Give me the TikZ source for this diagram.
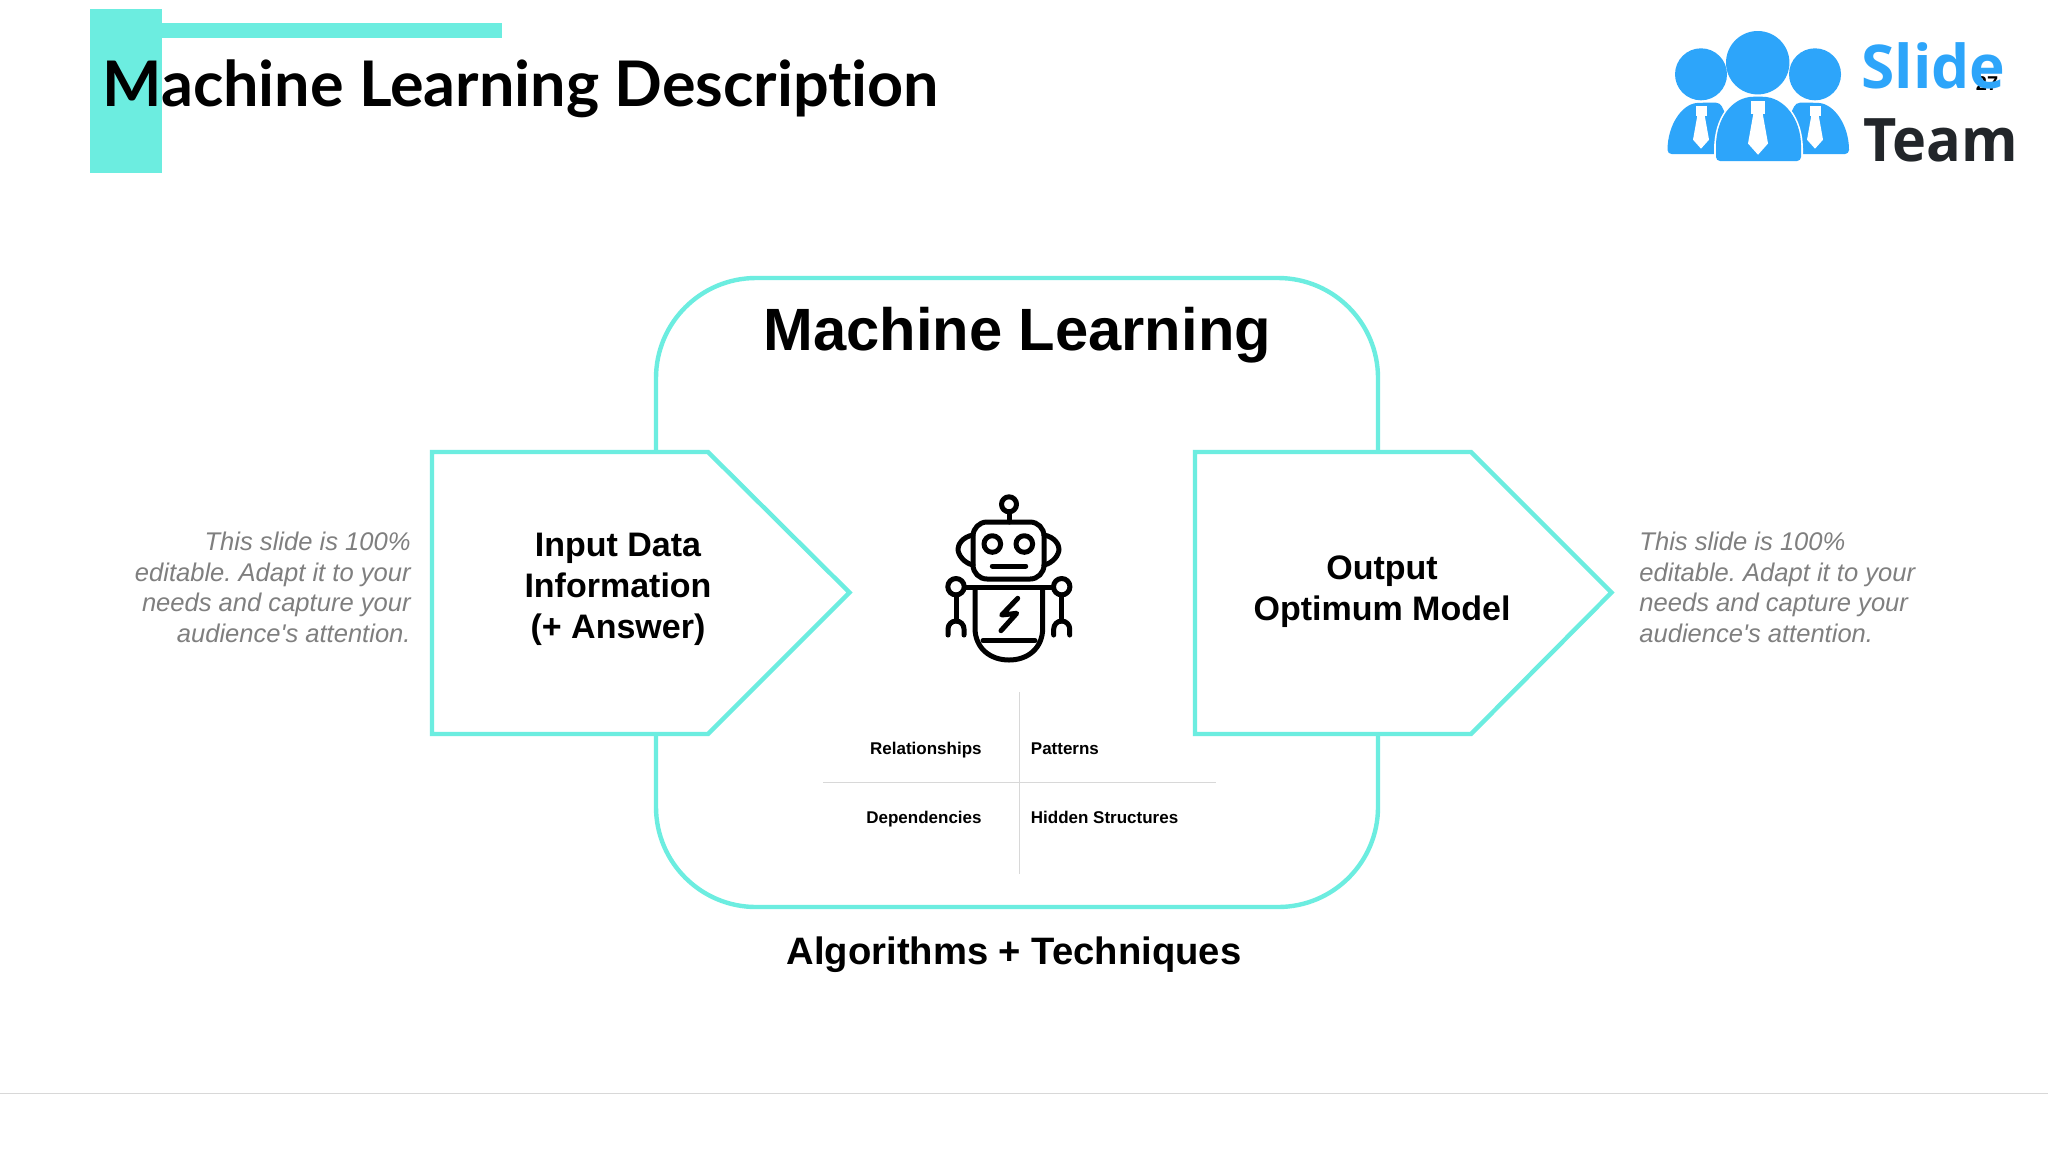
\documentclass[tikz,border=0pt]{standalone}
\usepackage{fontspec}
\setmainfont{Liberation Sans}
\newfontfamily\notefont{Liberation Sans}
\newfontfamily\titlefont[Ligatures=NoCommon]{Lato}
\newfontfamily\logofont{Open Sans}
\definecolor{teal1}{HTML}{6CEDE0}
\definecolor{logoblue}{HTML}{2DA5FA}
\definecolor{logodark}{HTML}{22262A}
\definecolor{sidegray}{HTML}{7F7F7F}
\definecolor{rulegray}{HTML}{D8D8D8}
\tikzset{
  tealline/.style={draw=teal1,line width=2.2pt,line join=miter},
  headlabel/.style={font=\bfseries\fontsize{17}{20.5}\selectfont,align=center,text=black,inner sep=0pt},
  sidenote/.style={font=\notefont\itshape\frenchspacing\fontsize{12.78}{15.35}\selectfont,text=sidegray,inner sep=0pt},
  cell/.style={font=\bfseries\fontsize{8.5}{10}\selectfont,text=black,inner sep=0pt},
  robotline/.style={draw=black,line width=2.5pt,line cap=round,line join=round},
  tiepart/.style={fill=white,draw=none},
}
\begin{document}
\begin{tikzpicture}[x=0.5pt,y=-0.5pt]
\useasboundingbox (0,0) rectangle (2048,1152);
\fill[white] (0,0) rectangle (2048,1152);
% header
\fill[teal1] (90,8.5) rectangle (162,173);
\fill[teal1] (162,22.7) rectangle (502,37.7);
\node[anchor=base west,inner sep=0pt,text=black] (title) at (102,106)
  {\titlefont\bfseries\fontsize{31.45}{34}\selectfont Machine Learning Description};
% slide number behind logo
\node[anchor=base,inner sep=0pt,font=\bfseries\fontsize{10}{12}\selectfont] (num) at (1987,90) {27};
% logo
\fill[logoblue,rounded corners=2pt] (1667.5,154) .. controls (1667.5,125) and (1682,104) .. (1701,102.7) -- (1720,102.7) -- (1745,154) -- cycle;
\fill[logoblue,rounded corners=2pt] (1849,154) .. controls (1849,125) and (1834,104) .. (1815,102.7) -- (1796,102.7) -- (1771,154) -- cycle;
\fill[white] (1714,166) -- (1714,150) .. controls (1714,118) and (1730,94) .. (1758,94) .. controls (1786,94) and (1803,118) .. (1803,150) -- (1803,166) -- cycle;
\fill[logoblue,rounded corners=2pt] (1716,161) -- (1716,150) .. controls (1716,120) and (1731,96.7) .. (1758,96.7) .. controls (1785,96.7) and (1801,120) .. (1801,150) -- (1801,161) -- cycle;
\fill[logoblue] (1701,74.3) circle (26);
\fill[logoblue] (1815,74.3) circle (26);
\fill[logoblue] (1757.7,62.7) circle (31.7);
\foreach \tx/\ty/\ts in {1701/105.7/1,1815/105.7/1,1758/101/1.25}{
  \begin{scope}[shift={(\tx,\ty)},scale=\ts]
    \fill[tiepart] (-5.5,0) rectangle (5.5,10.5);
    \fill[tiepart] (-3.8,10.5) -- (3.8,10.5) -- (8,34) -- (0,43) -- (-8,34) -- cycle;
  \end{scope}
}
\node[anchor=base west,inner sep=0pt,text=logoblue] (slidew) at (1861,88)
  {\logofont\bfseries\fontsize{30.2}{34}\selectfont Slide};
\node[anchor=base west,inner sep=0pt,text=logodark] (teamw) at (1863,161)
  {\logofont\bfseries\fontsize{30}{34}\selectfont\scalebox{.96}[1]{Team}};
% frame
\draw[tealline] (656,378) arc[start angle=180,end angle=270,radius=100] -- (1278,278) arc[start angle=270,end angle=360,radius=100] -- (1378,807) arc[start angle=0,end angle=90,radius=100] -- (756,907) arc[start angle=90,end angle=180,radius=100] -- cycle;
\node[inner sep=0pt,font=\bfseries\fontsize{29.85}{32}\selectfont] (ml) at (1017.2,335) {Machine Learning};
% pentagons
\draw[tealline,fill=white] (432,452) -- (708,452) -- (849.5,592.5) -- (708,734) -- (432,734) -- cycle;
\draw[tealline,fill=white] (1195,452) -- (1471,452) -- (1611.5,592.5) -- (1471,734) -- (1195,734) -- cycle;
\node[headlabel] (inp) at (618,589.5) {Input Data\\Information\\(+ Answer)};
\node[headlabel] (outp) at (1382,592) {Output\\Optimum Model};
\node[headlabel,font=\bfseries\fontsize{19.1}{21}\selectfont] (algo) at (1014,955) {Algorithms + Techniques};
% side notes
\node[sidenote,align=right,anchor=east] (ln) at (411,587.5) {This slide is 100\%\\editable. Adapt it to your\\needs and capture your\\audience's attention.};
\node[sidenote,align=left,anchor=west] (rn) at (1639,587.5) {This slide is 100\%\\editable. Adapt it to your\\needs and capture your\\audience's attention.};
% robot
\draw[robotline] (1009,504.3) circle (7.5);
\draw[robotline] (1009,512) -- (1009,522);
\draw[robotline] (987,522) -- (1030,522) arc[start angle=-90,end angle=0,radius=14] -- (1044,565) arc[start angle=0,end angle=90,radius=14] -- (987,579) arc[start angle=90,end angle=180,radius=14] -- (973,536) arc[start angle=180,end angle=270,radius=14] -- cycle;
\draw[robotline] (973,535) .. controls (962,537) and (958,545) .. (958,549) .. controls (958,555) and (964,563) .. (973,565);
\draw[robotline] (1044,535) .. controls (1055,537) and (1059,545) .. (1059,549) .. controls (1059,555) and (1053,563) .. (1044,565);
\draw[robotline] (992.3,544) circle (8.3);
\draw[robotline] (1024.3,544) circle (8.3);
\draw[robotline] (992.3,566) -- (1025.7,566);
\draw[robotline] (964.5,587.7) -- (1053,587.7);
\draw[robotline] (975,587.7) -- (975,628) .. controls (975,648) and (990,660) .. (1009,660) .. controls (1028,660) and (1042.7,648) .. (1042.7,628) -- (1042.7,587.7);
\draw[robotline] (983,640.7) -- (1035,640.7);
\draw[robotline] (956,586.7) circle (8.2);
\draw[robotline] (1061.7,586.7) circle (8.2);
\draw[robotline] (956,595) -- (956,621);
\draw[robotline] (1061.7,595) -- (1061.7,621);
\draw[robotline] (948,635) -- (948,629) arc[start angle=180,end angle=360,radius=8] -- (964,635);
\draw[robotline] (1053.7,635) -- (1053.7,629) arc[start angle=180,end angle=360,radius=8] -- (1069.7,635);
\draw[robotline] (1017.7,598.3) -- (1001.7,615) -- (1016.7,613.3) -- (1001,630.7);
% grid
\draw[rulegray,line width=0.6pt] (823,782.5) -- (1216,782.5);
\draw[rulegray,line width=0.6pt] (1019.5,692) -- (1019.5,874);
\node[cell,anchor=base east] (c1) at (982,754.5) {Relationships};
\node[cell,anchor=base west] (c2) at (1030.5,754.5) {Patterns};
\node[cell,anchor=base east] (c3) at (982,823.5) {Dependencies};
\node[cell,anchor=base west] (c4) at (1030.5,823.5) {Hidden Structures};
% footer rule
\draw[rulegray,line width=0.6pt] (0,1093.5) -- (2048,1093.5);
\end{tikzpicture}
\end{document}
